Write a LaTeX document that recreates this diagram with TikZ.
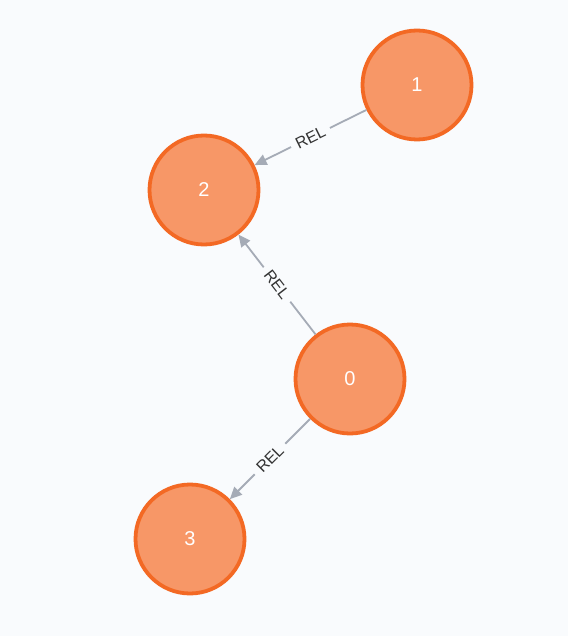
\documentclass[tikz,border=0pt]{standalone}
\usepackage{fontspec}
\setmainfont{Liberation Sans}
\usetikzlibrary{arrows.meta}
\definecolor{bg}{HTML}{F9FBFD}
\definecolor{nodefill}{HTML}{F79767}
\definecolor{nodeline}{HTML}{F36924}
\definecolor{edgecol}{HTML}{A5ABB6}
\definecolor{labcol}{HTML}{333333}
\tikzset{
  gnode/.style={circle, fill=nodefill, draw=nodeline, line width=3.8pt, minimum size=109pt, inner sep=0pt, text=white, font=\fontsize{20}{24}\selectfont},
  rel/.style={draw=edgecol, line width=1.8pt, -{Triangle[length=12pt,width=11pt]}},
  rellab/.style={sloped, fill=bg, text=labcol, inner xsep=6pt, inner ysep=2pt, font=\fontsize{16}{18}\selectfont}
}
\begin{document}
\begin{tikzpicture}[x=1pt,y=-1pt]
\fill[bg] (0,0) rectangle (568,636);
\useasboundingbox (0,0) rectangle (568,636);
\node[gnode] (n1) at (417,85) {1};
\node[gnode] (n2) at (204,190) {2};
\node[gnode] (n0) at (350,379) {0};
\node[gnode] (n3) at (190,539) {3};
\draw[rel] (n1) -- node[rellab] {REL} (n2);
\draw[rel] (n0) -- node[rellab] {REL} (n2);
\draw[rel] (n0) -- node[rellab] {REL} (n3);
\end{tikzpicture}
\end{document}
